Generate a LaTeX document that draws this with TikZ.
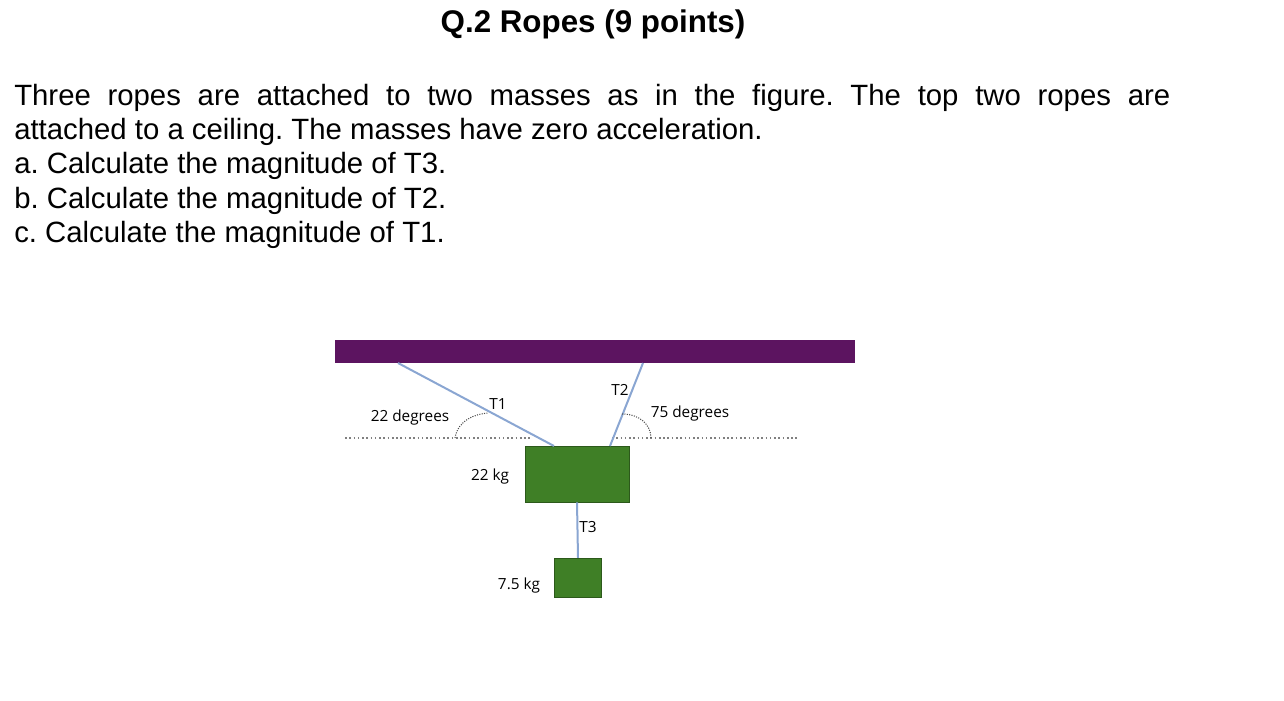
\documentclass[tikz,border=0pt]{standalone}
\usepackage{fontspec}
\setmainfont{Liberation Sans}
\newfontfamily\figfont{Open Sans}
\definecolor{ceil}{HTML}{5C1460}
\definecolor{massg}{HTML}{3F7F26}
\definecolor{ropec}{HTML}{8AA6D2}
\begin{document}
\frenchspacing
\begin{tikzpicture}[x=0.75pt,y=-0.75pt,
  txt/.style={anchor=base west,inner sep=0pt,font=\fontsize{22pt}{26pt}\selectfont},
  lbl/.style={inner sep=0pt,font=\figfont\fontsize{11.5pt}{13pt}\selectfont},
  rope/.style={draw=ropec,line width=1.5pt},
  mass/.style={fill=massg,draw=massg!70!black,line width=0.5pt},
  dotl/.style={draw=gray,line width=1.2pt,dotted},
  arcl/.style={draw=black!70,line width=0.8pt,densely dotted}]
\useasboundingbox (0,0) rectangle (1284,700);
\node[inner sep=0pt,font=\bfseries\fontsize{23.5pt}{26pt}\selectfont] (title) at (593,24) {Q.2 Ropes (9 points)};
\node[txt] (l1) at (14,105) {\makebox[867pt][s]{Three ropes are attached to two masses as in the figure. The top two ropes are}};
\node[txt] (l2) at (14,139) {attached to a ceiling. The masses have zero acceleration.};
\node[txt] (l3) at (14,173) {a. Calculate the magnitude of T3.};
\node[txt] (l4) at (14,208) {b. Calculate the magnitude of T2.};
\node[txt] (l5) at (14,242) {c. Calculate the magnitude of T1.};
% ceiling
\fill[ceil] (335,340) rectangle (855,363);
\coordinate (c1) at (398,363);
\coordinate (c2) at (643,363);
% dotted horizontals
\draw[dotl] (345,438) -- (532,438);
\draw[dotl] (612,438) -- (798,438);
% masses
\node[mass,minimum width=78pt,minimum height=42pt,inner sep=0pt] (m1) at (577,474) {};
\node[mass,minimum width=35pt,minimum height=29pt,inner sep=0pt] (m2) at (578,577.5) {};
% ropes
\draw[rope] (c1) -- (554,446) coordinate (j1);
\draw[rope] (c2) -- (610,446) coordinate (j2);
\draw[rope] (m1.south) -- (m2.north);
% arcs
\draw[arcl] (455,438) .. controls (458,420) and (475,414) .. (488,413);
\draw[arcl] (622,414) .. controls (640,414) and (651,425) .. (651,438);
% labels
\node[lbl] (a22) at (410,418) {22 degrees};
\node[lbl] (t1) at (498,404) {T1};
\node[lbl] (t2) at (620,390) {T2};
\node[lbl] (a75) at (690,414) {75 degrees};
\node[lbl] (k22) at (490,477) {22 kg};
\node[lbl] (t3) at (588,527) {T3};
\node[lbl] (k75) at (519,586) {7.5 kg};
\end{tikzpicture}
\end{document}
